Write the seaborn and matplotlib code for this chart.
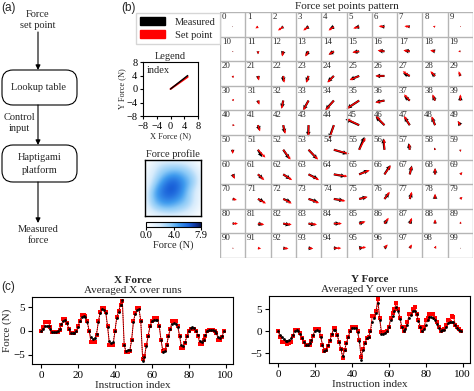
import numpy as np
import pandas as pd
import matplotlib
matplotlib.use("Agg")
import matplotlib.pyplot as plt
import seaborn as sns
from matplotlib.patches import FancyBboxPatch, Patch
from matplotlib.colors import LinearSegmentedColormap

# ---------------- data ----------------
fx_set = [0.0, 0.8, 1.8, 1.8, 1.8, 0.8, -0.3, -0.3, -0.3, -0.3,
          0.3, 1.3, 2.5, 2.5, 1.6, 0.5, -0.5, -0.5, -0.5, 0.0,
          1.0, 2.2, 3.3, 3.3, 3.2, 2.0, 0.0, -2.3, -2.3, -2.3,
          -0.8, 2.0, 4.0, 4.8, 4.8, 4.0, 1.0, -3.0, -3.0, -3.0,
          0.0, 3.0, 4.2, 5.5, 6.4, -3.0, -4.5, -4.5, -4.3, -2.0,
          2.0, 3.8, 4.8, 4.8, 2.0, -5.8, -5.3, -3.0, -1.0, 1.0,
          2.2, 2.8, 2.8, 2.8, 1.0, -2.0, -4.3, -4.0, -3.0, -1.0,
          0.5, 2.2, 2.2, 2.0, 1.0, -1.0, -3.5, -3.5, -2.5, -1.0,
          0.0, 0.5, 0.5, 0.5, 0.0, -1.0, -2.8, -2.8, -2.0, -1.0,
          0.0, 0.2, 0.2, 0.2, 0.0, -0.5, -1.8, -1.8, -1.2, 0.0]
fx_meas = [0.0, 0.5, 1.0, 1.1, 1.0, 0.4, -0.2, -0.3, -0.2, -0.1,
           0.4, 1.4, 2.2, 2.3, 1.6, 0.5, -0.4, -0.5, -0.5, -0.1,
           0.9, 2.0, 3.0, 3.1, 2.9, 1.8, 0.0, -1.3, -1.6, -1.5,
           -0.6, 1.8, 3.8, 4.6, 4.5, 3.8, 0.8, -2.2, -2.6, -2.4,
           0.0, 2.8, 4.0, 5.5, 6.5, -3.0, -4.2, -4.0, -4.0, -2.0,
           1.8, 3.6, 4.5, 4.6, 2.0, -6.3, -5.5, -3.2, -1.0, 1.0,
           2.0, 2.4, 2.4, 2.3, 1.0, -2.0, -4.5, -4.3, -3.0, -1.0,
           0.4, 1.5, 1.6, 1.5, 0.8, -1.0, -3.0, -3.1, -2.3, -1.0,
           0.0, 0.7, 0.8, 0.7, 0.0, -0.9, -2.2, -2.3, -1.8, -0.8,
           0.0, 0.2, 0.3, 0.2, 0.0, -0.4, -1.3, -1.4, -1.0, 0.0]
fy_set = [0.0, -1.2, -2.5, -2.5, -2.5, -2.8, -2.7, -2.5, -1.0, 0.3,
          0.3, 0.3, -0.5, -1.5, -2.5, -3.2, -3.2, -3.0, -2.3, -1.0,
          0.5, 0.5, 0.5, -1.0, -3.0, -4.5, -4.2, -3.3, -2.2, -0.8,
          0.7, 0.7, -0.8, -2.5, -4.0, -6.0, -4.2, -2.7, -1.2, 0.0,
          1.0, 1.0, 1.0, 0.0, -2.0, -5.8, -4.0, -2.7, -1.6, -1.2,
          0.0, 3.5, 3.5, 4.5, 7.3, 3.0, -0.2, -0.2, -0.2, 0.0,
          1.0, 3.0, 4.2, 5.0, 6.5, 5.0, 3.0, 1.0, 0.0, 1.0,
          2.0, 3.8, 4.0, 5.0, 5.5, 4.0, 2.5, 1.0, 0.0, 1.0,
          2.5, 3.0, 4.0, 4.0, 3.8, 3.0, 2.0, 1.0, 0.0, 0.3,
          0.5, 1.5, 2.5, 2.2, 3.5, 3.3, 1.5, 1.0, 0.5, 0.0]
fy_meas = [0.0, -0.8, -1.4, -1.8, -2.1, -2.2, -2.0, -1.6, -0.8, 0.0,
           0.2, 0.0, -0.6, -1.5, -2.4, -3.0, -3.0, -2.7, -2.0, -0.8,
           0.1, 0.2, 0.0, -1.2, -3.0, -4.4, -4.2, -3.2, -2.0, -0.7,
           0.3, 0.3, -0.8, -2.5, -4.0, -5.7, -4.3, -2.7, -1.2, 0.0,
           0.8, 0.8, 0.7, -0.2, -2.3, -6.5, -4.2, -2.6, -1.6, -1.2,
           0.0, 2.0, 3.0, 4.2, 6.5, 2.5, -0.6, -0.6, -0.5, 0.0,
           0.9, 2.5, 3.5, 4.5, 5.5, 4.5, 2.8, 1.0, 0.0, 0.6,
           1.5, 3.0, 3.7, 4.5, 4.7, 3.8, 2.3, 1.0, 0.0, 0.5,
           1.5, 2.5, 3.3, 3.3, 3.0, 2.5, 1.7, 0.8, 0.0, 0.2,
           0.4, 1.0, 1.8, 2.0, 2.0, 2.2, 1.4, 0.8, 0.3, 0.0]
legend_vec_x = [5.0]
legend_vec_y = [4.0]
legend_ticks = [-8, -4, 0, 4, 8]
force_ticks = [-5, 0, 5]
index_ticks = [0, 20, 40, 60, 80, 100]
cbar_ticks = [0.0, 4.0, 7.9]
flow_labels = ["Force\nset point", "Lookup table", "Control\ninput",
               "Haptigami\nplatform", "Measured\nforce"]
series_labels = ["Measured", "Set point"]

# ---------------- style ----------------
sns.set_theme(style="ticks")
plt.rcParams["font.family"] = ["Liberation Serif", "DejaVu Serif"]
plt.rcParams["axes.edgecolor"] = "black"
plt.rcParams["axes.linewidth"] = 0.8
plt.rcParams["xtick.color"] = "black"
plt.rcParams["ytick.color"] = "black"
plt.rcParams["xtick.major.size"] = 3
plt.rcParams["ytick.major.size"] = 3
plt.rcParams["xtick.major.width"] = 0.8
plt.rcParams["ytick.major.width"] = 0.8

W, H = 474, 391
fig = plt.figure(figsize=(W / 100, H / 100), dpi=100)


def rect(x0, y0, x1, y1):
    return [x0 / W, 1 - y1 / H, (x1 - x0) / W, (y1 - y0) / H]


# ---------------- (a) flowchart overlay ----------------
ax0 = fig.add_axes([0, 0, 1, 1])
ax0.set_xlim(0, W)
ax0.set_ylim(H, 0)
ax0.axis("off")
fs_flow = 7.5
ax0.text(38, 20, flow_labels[0], ha="center", va="center", fontsize=fs_flow, linespacing=1.3)
for (y0, y1) in [(70, 105), (145, 182)]:
    ax0.add_patch(FancyBboxPatch((2, y0), 75, y1 - y0,
                                 boxstyle="round,pad=0,rounding_size=11",
                                 fc="white", ec="black", lw=0.8))
ax0.text(39, 88, flow_labels[1], ha="center", va="center", fontsize=fs_flow)
ax0.text(19, 123, flow_labels[2], ha="center", va="center", fontsize=fs_flow, linespacing=1.3)
ax0.text(40, 164, flow_labels[3], ha="center", va="center", fontsize=fs_flow, linespacing=1.3)
ax0.text(38, 235, flow_labels[4], ha="center", va="center", fontsize=fs_flow, linespacing=1.3)
for (ya, yb) in [(32, 70), (105, 145), (182, 223)]:
    ax0.annotate("", xy=(38, yb), xytext=(38, ya),
                 arrowprops=dict(arrowstyle="-|>", color="black", lw=0.8,
                                 mutation_scale=7, shrinkA=0, shrinkB=0))
for lab, (x, y) in [("(a)", (1, 8)), ("(b)", (121, 8)), ("(c)", (1, 287))]:
    ax0.text(x, y, lab, ha="left", va="center", fontsize=8.5, family="Liberation Sans")

# ---------------- legend box ----------------
handles = [Patch(color="black"), Patch(color="red")]
fig.legend(handles, series_labels, loc="upper left",
           bbox_to_anchor=(136 / W, 1 - 13 / H), fontsize=7.5, frameon=True,
           handlelength=2.4, handleheight=0.8, borderaxespad=0, borderpad=0.4,
           labelspacing=0.35, handletextpad=0.9, fancybox=False, edgecolor="#cccccc")

# ---------------- legend example axes ----------------
axL = fig.add_axes(rect(143, 62, 198, 116))
axL.plot([0, legend_vec_x[0]], [0, legend_vec_y[0] - 0.4], color="red", lw=1.4)
axL.plot([0, legend_vec_x[0]], [0, legend_vec_y[0]], color="black", lw=1.0)
axL.set_xlim(-8, 8)
axL.set_ylim(-8, 8)
axL.set_xticks(legend_ticks)
axL.set_yticks(legend_ticks)
axL.tick_params(labelsize=7.5, pad=1.5, length=2.5)
axL.set_title("Legend", fontsize=7.5, pad=2)
axL.text(-7, 6.8, "index", ha="left", va="top", fontsize=7.5)
axL.set_xlabel("X Force (N)", fontsize=6, labelpad=1)
axL.set_ylabel("Y Force (N)", fontsize=6, labelpad=0)

# ---------------- force profile (smoothed magnitude of set points) ----------------
mag = np.sqrt(np.array(fx_set) ** 2 + np.array(fy_set) ** 2).reshape(10, 10)
up = np.kron(mag, np.ones((12, 12)))
pad = 30
field = np.pad(up, pad, mode="constant")


def box_blur(a, k):
    ker = np.ones(k) / k
    a = np.apply_along_axis(lambda v: np.convolve(v, ker, mode="same"), 0, a)
    a = np.apply_along_axis(lambda v: np.convolve(v, ker, mode="same"), 1, a)
    return a


for _ in range(5):
    field = box_blur(field, 19)
field = field[pad:-pad, pad:-pad]

cmap = LinearSegmentedColormap.from_list(
    "prof", [(0.0, "#ffffff"), (0.25, "#d6ebfc"), (0.45, "#8ccaf7"),
             (0.6, "#3f9bee"), (0.78, "#1b63da"), (0.9, "#10369c"), (1.0, "#0a1650")])
axP = fig.add_axes(rect(145, 160, 201, 216))
im = axP.imshow(field, cmap=cmap, vmin=0, vmax=cbar_ticks[-1], interpolation="bilinear",
                extent=(0, 10, 10, 0))
axP.set_xticks([])
axP.set_yticks([])
for s in axP.spines.values():
    s.set_linewidth(1.0)
axP.set_title("Force profile", fontsize=7.5, pad=2)
cax = fig.add_axes(rect(146, 222, 201, 227))
cb = fig.colorbar(im, cax=cax, orientation="horizontal", ticks=cbar_ticks, format="%.1f")
cb.ax.tick_params(labelsize=7.5, pad=1, length=2)
cb.set_label("Force (N)", fontsize=7.5, labelpad=0)
cb.outline.set_linewidth(0.8)

# ---------------- grid of set points ----------------
axG = fig.add_axes(rect(220, 12, 473, 258))
axG.set_xlim(0, 10)
axG.set_ylim(10, 0)
for k in range(11):
    axG.axvline(k, color="#b5b5b5", lw=1.0)
    axG.axhline(k, color="#b5b5b5", lw=1.0)
for s in axG.spines.values():
    s.set_visible(False)
axG.set_xticks([])
axG.set_yticks([])
idx = np.arange(len(fx_set))
rows, cols = idx // 10, idx % 10
for i in idx:
    axG.text(cols[i] + 0.07, rows[i] + 0.04, str(i), ha="left", va="top", fontsize=6.3)
qkw = dict(angles="xy", scale_units="xy", scale=12, headwidth=2.2, headlength=2.2,
           headaxislength=2.0, pivot="tail", minlength=0.3)
axG.quiver(cols + 0.5, rows + 0.6, fy_meas, fx_meas, color="black", width=0.0085, **qkw)
axG.quiver(cols + 0.5, rows + 0.6, fy_set, fx_set, color="red", width=0.0055, **qkw)
axG.set_title("Force set points pattern", fontsize=8, pad=2)

# ---------------- (c) time series ----------------
df = pd.DataFrame({"idx": idx, "fx_set": fx_set, "fx_meas": fx_meas,
                   "fy_set": fy_set, "fy_meas": fy_meas})
axX = fig.add_axes(rect(32, 297, 233, 364))
axY = fig.add_axes(rect(269, 296, 470, 363))
for ax, key, name in [(axX, "fx", "X"), (axY, "fy", "Y")]:
    sns.lineplot(data=df, x="idx", y=key + "_set", ax=ax, color="red", lw=0.7,
                 marker="s", markersize=3.2, markeredgewidth=0)
    sns.lineplot(data=df, x="idx", y=key + "_meas", ax=ax, color="black", lw=0.6,
                 ls=":", marker="o", markersize=2.0, markeredgewidth=0)
    ax.set_xticks(index_ticks)
    ax.set_yticks(force_ticks)
    ax.tick_params(labelsize=8, pad=2)
    ax.set_xlabel("Instruction index", fontsize=8, labelpad=1)
    ax.set_ylabel("")
    ax.text(0.5, 1.24, f"{name} Force", transform=ax.transAxes, ha="center",
            va="center", fontsize=8, fontweight="bold")
    ax.text(0.5, 1.09, f"Averaged {name} over runs", transform=ax.transAxes,
            ha="center", va="center", fontsize=8)
axX.set_ylabel("Force (N)", fontsize=8, labelpad=1)

fig.savefig("out.png", dpi=100)
